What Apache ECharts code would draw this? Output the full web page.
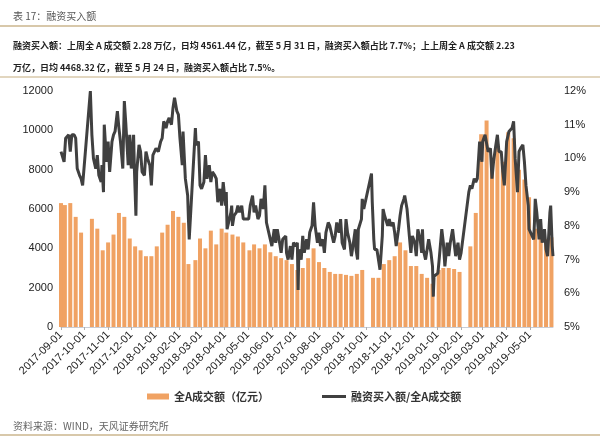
<!DOCTYPE html>
<html>
<head>
<meta charset="utf-8">
<script src="https://cdn.jsdelivr.net/npm/echarts@6/dist/echarts.min.js"></script>
<style>
  html, body { margin: 0; padding: 0; background: #fff; }
  #chart { width: 600px; height: 437px; }
</style>
</head>
<body>
<div id="chart"></div>
<script>
// weekly turnover bars (centre of each trading week), 亿元
const weekDates = [
  "2017-09-01", "2017-09-06", "2017-09-13", "2017-09-20", "2017-09-27",
  "2017-10-11", "2017-10-18", "2017-10-25", "2017-11-01", "2017-11-08",
  "2017-11-15", "2017-11-22", "2017-11-29", "2017-12-06", "2017-12-13",
  "2017-12-20", "2017-12-27", "2018-01-03", "2018-01-10", "2018-01-17",
  "2018-01-24", "2018-01-31", "2018-02-07", "2018-02-13", "2018-02-22",
  "2018-02-28", "2018-03-07", "2018-03-14", "2018-03-21", "2018-03-28",
  "2018-04-03", "2018-04-11", "2018-04-18", "2018-04-25", "2018-05-03",
  "2018-05-09", "2018-05-16", "2018-05-23", "2018-05-30", "2018-06-06",
  "2018-06-13", "2018-06-20", "2018-06-27", "2018-07-04", "2018-07-11",
  "2018-07-18", "2018-07-25", "2018-08-01", "2018-08-08", "2018-08-15",
  "2018-08-22", "2018-08-29", "2018-09-05", "2018-09-12", "2018-09-19",
  "2018-09-26", "2018-10-10", "2018-10-17", "2018-10-24", "2018-10-31",
  "2018-11-07", "2018-11-14", "2018-11-21", "2018-11-28", "2018-12-05",
  "2018-12-12", "2018-12-19", "2018-12-26", "2019-01-03", "2019-01-09",
  "2019-01-16", "2019-01-23", "2019-01-30", "2019-02-13", "2019-02-20",
  "2019-02-27", "2019-03-06", "2019-03-13", "2019-03-20", "2019-03-27",
  "2019-04-03", "2019-04-10", "2019-04-17", "2019-04-24", "2019-04-30",
  "2019-05-08", "2019-05-15", "2019-05-22", "2019-05-29"
];
const turnover = [
  6300, 6200, 6300, 5600, 4800,
  5500, 5000, 3900, 4300, 4700,
  5800, 5600, 4500, 4100, 3900,
  3600, 3600, 4100, 4800, 5200,
  5900, 5600, 5300, 3200, 3400,
  4500, 4000, 4900, 4200, 5000,
  4800, 4700, 4600, 4300, 3900,
  4200, 4000, 4200, 3800, 3600,
  3500, 3400, 3200, 2900, 3000,
  3500, 4000, 3300, 3000, 2800,
  2700, 2700, 2650, 2600, 2700,
  2900, 2500, 2500, 3200, 3400,
  3600, 4300, 3900, 3100, 3100,
  2700, 2500, 2200, 2900, 3000,
  3000, 2950, 2800, 4100, 5800,
  9800, 10500, 8600, 9300, 8400,
  9900, 9600, 8000, 7500, 6600,
  5000, 4600, 4470, 4560
];

// 融资买入额 / 全A成交额, %
const ratioDates = [
  "2017-09-01", "2017-09-05", "2017-09-07", "2017-09-11", "2017-09-13", "2017-09-15",
  "2017-09-18", "2017-09-20", "2017-09-22", "2017-09-25", "2017-09-27", "2017-09-29",
  "2017-10-09", "2017-10-11", "2017-10-13", "2017-10-16", "2017-10-18", "2017-10-20",
  "2017-10-23", "2017-10-24", "2017-10-26", "2017-10-27", "2017-10-30", "2017-11-01",
  "2017-11-03", "2017-11-06", "2017-11-08", "2017-11-10", "2017-11-13", "2017-11-15",
  "2017-11-17", "2017-11-20", "2017-11-22", "2017-11-24", "2017-11-27", "2017-11-29",
  "2017-12-01", "2017-12-04", "2017-12-05", "2017-12-07", "2017-12-08", "2017-12-11",
  "2017-12-13", "2017-12-15", "2017-12-18", "2017-12-20", "2017-12-22", "2017-12-25",
  "2017-12-27", "2017-12-29", "2018-01-02", "2018-01-04", "2018-01-05", "2018-01-08",
  "2018-01-10", "2018-01-12", "2018-01-15", "2018-01-17", "2018-01-19", "2018-01-22",
  "2018-01-24", "2018-01-26", "2018-01-29", "2018-01-31", "2018-02-02", "2018-02-05",
  "2018-02-06", "2018-02-08", "2018-02-09", "2018-02-12", "2018-02-13", "2018-02-14",
  "2018-02-22", "2018-02-23", "2018-02-26", "2018-02-28", "2018-03-02", "2018-03-05",
  "2018-03-07", "2018-03-09", "2018-03-12", "2018-03-14", "2018-03-16", "2018-03-19",
  "2018-03-21", "2018-03-23", "2018-03-26", "2018-03-28", "2018-03-30", "2018-04-02",
  "2018-04-03", "2018-04-04", "2018-04-09", "2018-04-10", "2018-04-11", "2018-04-13",
  "2018-04-16", "2018-04-18", "2018-04-20", "2018-04-23", "2018-04-25", "2018-04-27",
  "2018-05-02", "2018-05-04", "2018-05-07", "2018-05-09", "2018-05-11", "2018-05-14",
  "2018-05-16", "2018-05-18", "2018-05-21", "2018-05-23", "2018-05-25", "2018-05-28",
  "2018-05-30", "2018-06-01", "2018-06-04", "2018-06-06", "2018-06-08", "2018-06-11",
  "2018-06-13", "2018-06-15", "2018-06-19", "2018-06-20", "2018-06-22", "2018-06-25",
  "2018-06-27", "2018-06-29", "2018-07-02", "2018-07-04", "2018-07-05", "2018-07-06",
  "2018-07-09", "2018-07-11", "2018-07-13", "2018-07-16", "2018-07-18", "2018-07-20",
  "2018-07-23", "2018-07-25", "2018-07-27", "2018-07-30", "2018-08-01", "2018-08-03",
  "2018-08-06", "2018-08-08", "2018-08-10", "2018-08-13", "2018-08-15", "2018-08-17",
  "2018-08-20", "2018-08-22", "2018-08-24", "2018-08-27", "2018-08-29", "2018-08-31",
  "2018-09-03", "2018-09-05", "2018-09-07", "2018-09-10", "2018-09-12", "2018-09-14",
  "2018-09-17", "2018-09-18", "2018-09-20", "2018-09-21", "2018-09-25", "2018-09-26",
  "2018-09-28", "2018-10-08", "2018-10-09", "2018-10-11", "2018-10-12", "2018-10-15",
  "2018-10-17", "2018-10-19", "2018-10-22", "2018-10-23", "2018-10-25", "2018-10-29",
  "2018-10-31", "2018-11-02", "2018-11-05", "2018-11-07", "2018-11-09", "2018-11-12",
  "2018-11-14", "2018-11-16", "2018-11-19", "2018-11-20", "2018-11-23", "2018-11-26",
  "2018-11-28", "2018-11-30", "2018-12-03", "2018-12-05", "2018-12-07", "2018-12-10",
  "2018-12-12", "2018-12-13", "2018-12-14", "2018-12-17", "2018-12-19", "2018-12-21",
  "2018-12-24", "2018-12-26", "2018-12-27", "2018-12-28", "2019-01-02", "2019-01-04",
  "2019-01-07", "2019-01-09", "2019-01-11", "2019-01-14", "2019-01-16", "2019-01-18",
  "2019-01-21", "2019-01-23", "2019-01-25", "2019-01-28", "2019-01-30", "2019-02-01",
  "2019-02-11", "2019-02-13", "2019-02-15", "2019-02-18", "2019-02-20", "2019-02-22",
  "2019-02-25", "2019-02-26", "2019-02-28", "2019-03-01", "2019-03-04", "2019-03-06",
  "2019-03-08", "2019-03-11", "2019-03-13", "2019-03-15", "2019-03-18", "2019-03-20",
  "2019-03-22", "2019-03-25", "2019-03-27", "2019-03-29", "2019-04-01", "2019-04-03",
  "2019-04-04", "2019-04-08", "2019-04-10", "2019-04-12", "2019-04-15", "2019-04-17",
  "2019-04-19", "2019-04-22", "2019-04-24", "2019-04-26", "2019-04-29", "2019-04-30",
  "2019-05-06", "2019-05-07", "2019-05-08", "2019-05-10", "2019-05-13", "2019-05-15",
  "2019-05-17", "2019-05-20", "2019-05-22", "2019-05-24", "2019-05-27", "2019-05-28",
  "2019-05-30", "2019-05-31"
];
const ratio = [
  10.2, 9.9, 10.6, 10.7, 10.2, 10.7,
  10.7, 10.6, 9.7, 9.5, 9.4, 9.2,
  12.0, 10.7, 10.0, 9.7, 10.1, 9.5,
  9.3, 9.8, 9.0, 11.0, 9.9, 10.5,
  9.6, 10.5, 10.7, 10.8, 11.4, 10.9,
  10.5, 9.7, 11.7, 11.0, 9.8, 10.7,
  9.7, 10.7, 9.7, 8.3, 9.6, 10.4,
  10.2, 9.6, 9.5, 10.2, 10.0, 9.8,
  9.2, 10.1, 10.3, 10.3, 10.2, 10.5,
  10.6, 11.1, 10.9, 11.1, 11.2, 11.0,
  11.5, 11.8, 11.4, 11.3, 10.6, 9.8,
  10.8, 10.8, 9.4, 8.9, 8.2, 7.6,
  10.9, 10.4, 10.5, 9.2, 9.1, 9.3,
  10.1, 9.4, 9.8, 9.3, 9.6, 9.5,
  9.4, 8.7, 9.1, 8.6, 9.3, 8.6,
  9.0, 7.9, 8.4, 8.6, 8.0, 8.3,
  8.4, 8.6, 8.4, 8.6, 8.2, 8.2,
  8.2, 8.6, 8.9, 8.4, 8.6, 8.2,
  8.3, 8.8, 8.5, 9.2, 8.1, 7.8,
  7.6, 7.4, 7.9, 7.5, 7.9, 7.5,
  7.2, 7.6, 7.7, 7.2, 7.0, 7.4,
  7.0, 7.5, 7.4, 7.5, 6.1, 7.3,
  7.0, 7.7, 7.2, 7.6, 7.3, 7.8,
  8.0, 8.7, 8.0, 7.5, 7.8, 7.4,
  7.6, 7.2, 7.8, 8.1, 8.0, 8.0,
  7.5, 7.7, 8.1, 7.8, 8.2, 7.5,
  7.3, 8.2, 7.8, 7.5, 7.1, 7.4,
  7.9, 7.3, 7.0, 7.9, 8.2, 8.8,
  8.5, 9.55, 8.7, 7.6, 7.3, 7.3,
  7.0, 6.7, 7.7, 8.5, 8.3, 8.0,
  8.2, 8.0, 8.1, 7.8, 7.4, 7.9,
  8.3, 8.6, 8.8, 8.9, 8.5, 7.7,
  7.2, 7.7, 7.5, 7.1, 7.9, 7.6,
  7.2, 7.9, 7.3, 7.0, 7.3, 7.6,
  7.2, 6.8, 5.9, 6.5, 6.6, 7.1,
  7.9, 7.5, 6.8, 7.5, 7.1, 7.5,
  7.9, 7.5, 7.1, 7.5, 7.0, 7.2,
  9.0, 9.2, 9.1, 9.4, 9.3, 9.4,
  10.5, 10.2, 9.9, 10.5, 10.7, 10.7,
  10.2, 10.3, 9.4, 9.9, 10.4, 10.7,
  10.2, 10.2, 9.6, 9.2, 10.5, 10.7,
  10.8, 10.9, 11.1, 10.0, 9.0, 10.2,
  10.3, 10.4, 9.9, 9.2, 8.6, 7.9,
  7.6, 8.1, 8.8, 8.4, 7.6, 8.2,
  7.5, 7.9, 7.3, 7.1, 8.4, 8.6,
  7.4, 7.1
];

// x-axis tick labels (month starts)
const monthTicks = [
  "2017-09-01", "2017-10-01", "2017-11-01", "2017-12-01", "2018-01-01",
  "2018-02-01", "2018-03-01", "2018-04-01", "2018-05-01", "2018-06-01",
  "2018-07-01", "2018-08-01", "2018-09-01", "2018-10-01", "2018-11-01",
  "2018-12-01", "2019-01-01", "2019-02-01", "2019-03-01", "2019-04-01",
  "2019-05-01"
];

const barName = "全A成交额（亿元）";
const lineName = "融资买入额/全A成交额";

// dates as day numbers (UTC) so the value axis stays linear in time
const DAY = 86400000;
const toDay = s => {
  const [y, m, d] = s.split("-").map(Number);
  return Date.UTC(y, m - 1, d) / DAY;
};
const labelOf = {};
monthTicks.forEach(s => { labelOf[toDay(s)] = s; });

const fontFamily = 'Arial, "Liberation Sans", "Noto Sans CJK SC", sans-serif';
const cjkFont = '"Noto Sans CJK SC", "Noto Sans", sans-serif';
const rule = "#d8c8aa";
const legendText = { fontFamily: cjkFont, fontSize: 11, fontWeight: "bold", color: "#333" };

const chart = echarts.init(document.getElementById("chart"), null, { renderer: "canvas" });

chart.setOption({
  backgroundColor: "#ffffff",
  animation: false,
  title: [
    {
      text: "表 17：融资买入额",
      left: 8,
      top: 6,
      textStyle: { fontFamily: cjkFont, fontSize: 10, fontWeight: "normal", color: "#555" }
    },
    {
      text: "融资买入额：上周全 A 成交额 2.28 万亿，日均 4561.44 亿，截至 5 月 31 日，融资买入额占比 7.7%；上上周全 A 成交额 2.23\n万亿，日均 4468.32 亿，截至 5 月 24 日，融资买入额占比 7.5%。",
      left: 8,
      top: 30,
      textStyle: { fontFamily: cjkFont, fontSize: 9, fontWeight: "bold", color: "#222", lineHeight: 22 }
    },
    {
      text: "资料来源：WIND，天风证券研究所",
      left: 8,
      top: 416,
      textStyle: { fontFamily: cjkFont, fontSize: 10, fontWeight: "normal", color: "#666" }
    }
  ],
  graphic: [
    { type: "line", shape: { x1: 0, y1: 26, x2: 600, y2: 26 }, style: { stroke: rule, lineWidth: 2 } },
    { type: "line", shape: { x1: 0, y1: 77, x2: 600, y2: 77 }, style: { stroke: rule, lineWidth: 1.5 } },
    { type: "line", shape: { x1: 0, y1: 435, x2: 600, y2: 435 }, style: { stroke: rule, lineWidth: 2 } }
  ],
  legend: [
    {
      left: 142,
      top: 386,
      itemWidth: 22,
      itemHeight: 6,
      icon: "rect",
      textStyle: legendText,
      data: [barName]
    },
    {
      left: 317,
      top: 386,
      itemWidth: 24,
      itemHeight: 3,
      icon: "rect",
      textStyle: legendText,
      data: [lineName]
    }
  ],
  grid: { left: 61, right: 47, top: 91, bottom: 110, containLabel: false },
  xAxis: {
    type: "value",
    min: toDay("2017-09-01"),
    max: toDay("2019-05-31"),
    axisLine: { lineStyle: { color: "#c8cdd6", width: 1 } },
    axisTick: {
      show: true,
      length: 3,
      lineStyle: { color: "#b0b0b0" },
      customValues: monthTicks.map(toDay)
    },
    axisLabel: {
      rotate: 45,
      fontFamily,
      fontSize: 11,
      color: "#222",
      margin: 6,
      customValues: monthTicks.map(toDay),
      formatter: v => labelOf[Math.round(v)] || ""
    },
    splitLine: { show: false }
  },
  yAxis: [
    {
      type: "value",
      min: 0,
      max: 12000,
      interval: 2000,
      axisLine: { show: false },
      axisTick: { show: false },
      splitLine: { show: false },
      axisLabel: { fontFamily, fontSize: 11, color: "#222", margin: 8, formatter: v => String(v) }
    },
    {
      type: "value",
      min: 5,
      max: 12,
      interval: 1,
      axisLine: { show: false },
      axisTick: { show: false },
      splitLine: { show: false },
      axisLabel: { fontFamily, fontSize: 11, color: "#222", margin: 11, formatter: v => v + "%" }
    }
  ],
  series: [
    {
      name: barName,
      type: "bar",
      barWidth: 4,
      itemStyle: { color: "#f0a263" },
      data: weekDates.map((d, i) => [toDay(d), turnover[i]])
    },
    {
      name: lineName,
      type: "line",
      yAxisIndex: 1,
      symbol: "none",
      lineStyle: { color: "#404040", width: 3 },
      itemStyle: { color: "#404040" },
      data: ratioDates.map((d, i) => [toDay(d), ratio[i]])
    }
  ]
});
</script>
</body>
</html>
